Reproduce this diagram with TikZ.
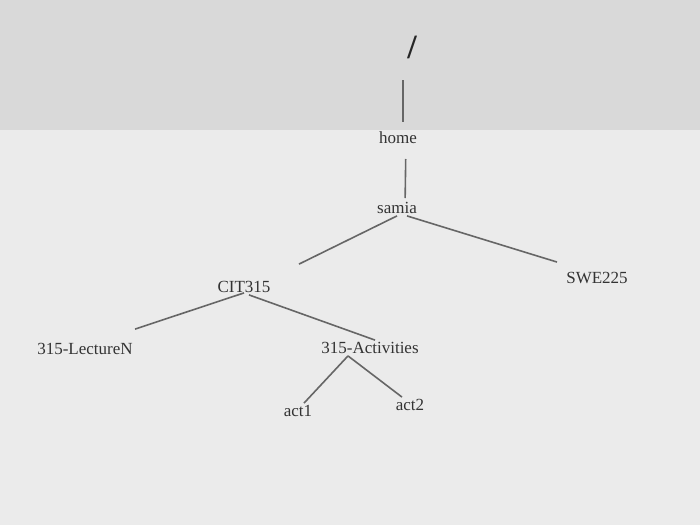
\documentclass[tikz,border=0pt]{standalone}
\usepackage{fontspec}
\setmainfont{Liberation Serif}
\begin{document}
\begin{tikzpicture}[x=1pt,y=-1pt,
  lbl/.style={font=\fontsize{17}{19}\selectfont, text=black!80, inner sep=2pt},
  edge/.style={draw=black!60, line width=1.6pt}]
\fill[black!15] (0,0) rectangle (700,525);
\fill[black!8] (0,130) rectangle (700,525);
\useasboundingbox (0,0) rectangle (700,525);
\node[font=\fontsize{34}{36}\selectfont\bfseries, text=black!85] (root) at (412,47) {/};
\node[lbl] (home) at (398,138) {home};
\node[lbl] (samia) at (397,208) {samia};
\node[lbl] (cit) at (244,287) {CIT315};
\node[lbl] (swe) at (597,278) {SWE225};
\node[lbl] (lec) at (85,349) {315-LectureN};
\node[lbl] (act) at (370,348) {315-Activities};
\node[lbl] (a1) at (298,411) {act1};
\node[lbl] (a2) at (410,405) {act2};
\draw[edge] (root) ++(-9,33) coordinate (r1) -- ++(0,42) coordinate (r2);
\draw[edge, shorten <=21pt, shorten >=10pt] ([xshift=8pt]home.center) -- ([xshift=8pt]samia.center);
\draw[edge] (samia.south) -- ([shift={(55,-15)}]cit.north);
\draw[edge] ([xshift=10pt]samia.south) -- ([shift={(-40,-8)}]swe.north);
\draw[edge] ([yshift=2pt]cit.south) -- ([shift={(50,-12)}]lec.north);
\draw[edge] ([xshift=5pt]cit.south) -- ([xshift=5pt]act.north);
\draw[edge] ([xshift=-22pt]act.south) -- ([xshift=6pt]a1.north);
\draw[edge] ([xshift=-22pt]act.south) -- ([xshift=-8pt]a2.north);
\end{tikzpicture}
\end{document}
